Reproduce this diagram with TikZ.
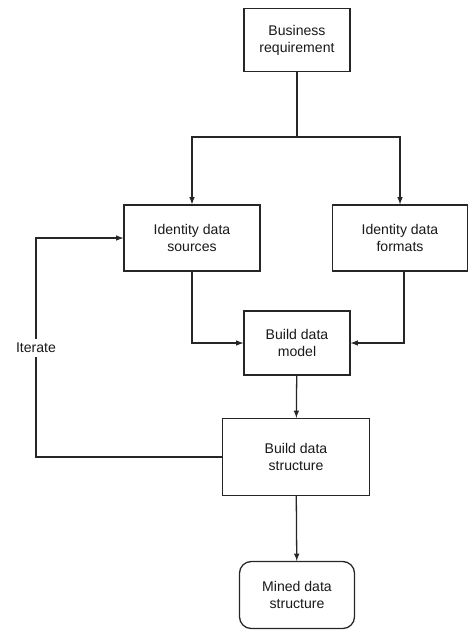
\documentclass[tikz,border=0pt]{standalone}
\usepackage{fontspec}
\setmainfont{Liberation Sans}
\begin{document}
\begin{tikzpicture}[x=0.03cm,y=-0.03cm,>=latex,line width=1.1pt,
  every node/.style={font=\fontsize{12}{14.6}\selectfont,align=center,text=black!90},
  box/.style={draw=black!85,rectangle,inner sep=0pt},
  endbox/.style={box,rounded corners=10pt},
  link/.style={draw=black!85,->}]

\useasboundingbox (0,0) rectangle (474,636);

\node[box,minimum width=3.18cm,minimum height=1.89cm] (req) at (297,40) {Business\\requirement};
\node[box,minimum width=4.08cm,minimum height=1.98cm] (src) at (192,238) {Identity data\\sources};
\node[box,minimum width=4.05cm,minimum height=1.98cm] (fmt) at (400,238) {Identity data\\formats};
\node[box,minimum width=3.18cm,minimum height=1.92cm] (mdl) at (297,343) {Build data\\model};
\node[box,minimum width=4.41cm,minimum height=2.31cm] (str) at (296,457) {Build data\\structure};
\node[endbox,minimum width=3.45cm,minimum height=2.01cm] (mnd) at (297,595) {Mined data\\structure};
\node (it) at (36,348) {Iterate};

\coordinate (split) at (297,137);

\draw[draw=black!85] (req) -- (split);
\draw[link] (split) -| (src);
\draw[link] (split) -| (fmt);
\draw[link] (src) |- (mdl);
\draw[link] (fmt.south) ++(4,0) |- (mdl);
\draw[link] (mdl) -- (str);
\draw[link] (str) -- (mnd);
\draw[draw=black!85] (str) -| (it);
\draw[link] (it) |- (src);

\end{tikzpicture}
\end{document}
